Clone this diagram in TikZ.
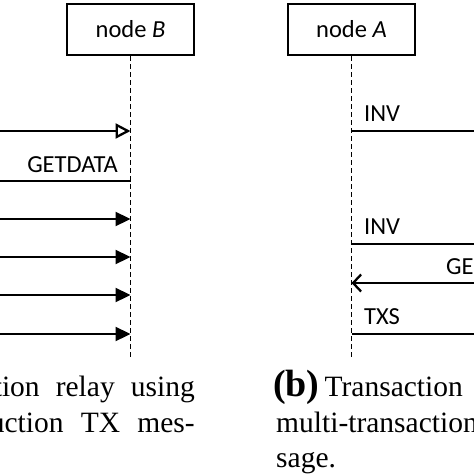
\documentclass[tikz,border=0pt]{standalone}
\usepackage{fontspec}
\setmainfont{Liberation Serif}
\newfontfamily\lblfont{Carlito}
\usetikzlibrary{arrows.meta}
\tikzset{
  actor/.style={draw, line width=2.6pt, minimum width=127pt, minimum height=51pt, inner sep=0pt, font=\lblfont\fontsize{24.5}{29}\selectfont},
  lifeline/.style={line width=1.5pt, dash pattern=on 5pt off 3pt},
  msg/.style={line width=2.3pt},
  lbl/.style={inner sep=0pt, font=\lblfont\fontsize{24.5}{29}\selectfont},
  captxt/.style={inner sep=0pt, font=\fontsize{29.5}{36}\selectfont},
  filledtip/.style={-{Triangle[length=15pt,width=14pt]}},
  opentip/.style={-{Triangle[open,length=15pt,width=15pt,line width=2.3pt]}},
  barbtip/.style={-{Straight Barb[length=8pt,width=17pt,line width=2.3pt]}}
}
\begin{document}
\begin{tikzpicture}[x=1pt,y=-1pt]
\useasboundingbox (0,0) rectangle (474,474);
\clip (0,0) rectangle (474,474);
\fill[white] (0,0) rectangle (474,474);

% panel (a)
\node[actor] (nodeB) at (130.5,29.5) {node \textit{B}};
\coordinate (Bend) at (130.5,359);
\draw[lifeline] (nodeB.south) -- (Bend);

\coordinate (a1l) at (-5,131); \coordinate (a1r) at (130.5,131);
\coordinate (a2l) at (-5,181); \coordinate (a2r) at (130.5,181);
\coordinate (a3l) at (-5,219); \coordinate (a3r) at (130.5,219);
\coordinate (a4l) at (-5,257); \coordinate (a4r) at (130.5,257);
\coordinate (a5l) at (-5,295); \coordinate (a5r) at (130.5,295);
\coordinate (a6l) at (-5,334); \coordinate (a6r) at (130.5,334);
\draw[msg,opentip] (a1l) -- (a1r);
\draw[msg] (a2r) -- (a2l);
\node[lbl, anchor=base east] (lgetdata) at (118,172) {GETDATA};
\draw[msg,filledtip] (a3l) -- (a3r);
\draw[msg,filledtip] (a4l) -- (a4r);
\draw[msg,filledtip] (a5l) -- (a5r);
\draw[msg,filledtip] (a6l) -- (a6r);

\node[captxt, anchor=base east] (capa1) at (195,396) {\hbox to 201pt{tion\hfill relay\hfill using}};
\node[captxt, anchor=base east] (capa2) at (195,432) {\hbox to 205pt{uction\hfill TX\hfill mes-}};

% panel (b)
\node[actor] (nodeA) at (351.5,29.5) {node \textit{A}};
\coordinate (Aend) at (351.5,359);
\draw[lifeline] (nodeA.south) -- (Aend);

\coordinate (b1l) at (351.5,131); \coordinate (b1r) at (480,131);
\coordinate (b2l) at (351.5,244); \coordinate (b2r) at (480,244);
\coordinate (b3l) at (351.5,283); \coordinate (b3r) at (480,283);
\coordinate (b4l) at (351.5,334); \coordinate (b4r) at (480,334);
\draw[msg] (b1l) -- (b1r);
\node[lbl, anchor=base west] (linv1) at (364,121) {INV};
\draw[msg] (b2l) -- (b2r);
\node[lbl, anchor=base west] (linv2) at (364,234) {INV};
\draw[msg,barbtip] (b3r) -- (b3l);
\node[lbl, anchor=base west] (lge) at (446,274) {GE};
\draw[msg] (b4l) -- (b4r);
\node[lbl, anchor=base west] (ltxs) at (364,324) {TXS};

\node[captxt, anchor=base west] (capb1) at (273,396) {{\fontsize{38}{40}\selectfont\bfseries (b)}\hspace{5pt}Transaction};
\node[captxt, anchor=base west] (capb2) at (276,432) {multi-transaction};
\node[captxt, anchor=base west] (capb3) at (276,467) {sage.};
\end{tikzpicture}
\end{document}
